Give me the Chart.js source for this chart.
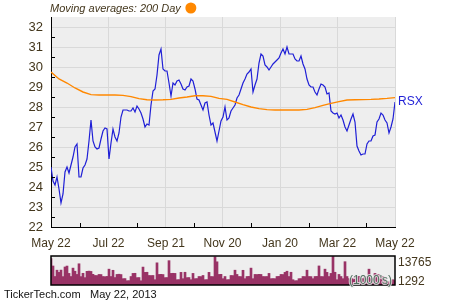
<!DOCTYPE html>
<html>
<head>
<meta charset="utf-8">
<script src="https://cdn.jsdelivr.net/npm/chart.js@4"></script>
<style>
    html, body { margin: 0; padding: 0; background: #fff; }
    #wrap { position: relative; width: 450px; height: 300px; }
    #priceChart { position: absolute; left: 0; top: 0; }
    #volumeChart { position: absolute; left: 0; top: 250px; }
</style>
</head>
<body>
<div id="wrap">
    <canvas id="priceChart" width="450" height="250"></canvas>
    <canvas id="volumeChart" width="450" height="50"></canvas>
</div>
<script>
// x axis is days since May 22, 2012
let tickDays = [0, 61, 122, 182, 243, 304, 365];
let tickLabels = ["May 22", "Jul 22", "Sep 21", "Nov 20", "Jan 20", "Mar 22", "May 22"];

let symbol = "RSX";
let maLabel = "Moving averages: 200 Day";

// RSX closing prices, evenly spaced over the year
let closes = [
    25.0, 24.3, 24.1, 24.5, 23.9, 23.2, 23.65, 24.75, 25.0, 24.7, 25.1, 25.5, 26.0, 26.15, 24.5, 24.5, 24.95, 25.1, 25.4, 26.3,
    27.35, 26.3, 26.0, 25.9, 25.95, 26.4, 26.8, 26.95, 26.9, 25.4, 26.2, 26.9, 26.5, 26.3, 26.7, 27.5, 27.85, 27.85, 27.85, 27.8,
    27.8, 27.95, 27.75, 28.05, 27.9, 27.7, 27.4, 27.0, 27.15, 27.1, 28.1, 28.8, 28.9, 29.6, 30.6, 30.9, 29.9, 29.8, 29.8, 29.2,
    28.55, 29.2, 29.1, 29.3, 29.35, 29.15, 28.9, 28.85, 29.0, 29.05, 29.4, 29.3, 28.9, 28.4, 28.35, 28.1, 27.85, 28.2, 28.25, 27.6,
    27.1, 27.2, 26.75, 26.3, 26.8, 27.3, 27.5, 28.0, 27.35, 27.45, 27.8, 27.95, 28.1, 28.45, 28.6, 28.9, 29.2, 29.4, 29.65, 29.75,
    29.9, 28.75, 29.1, 29.4, 30.2, 30.65, 30.55, 30.1, 30.0, 29.85, 30.0, 30.15, 30.25, 30.35, 30.45, 30.7, 30.9, 30.65, 31.0, 30.65,
    30.65, 30.65, 30.4, 30.3, 30.3, 30.55, 30.15, 29.9, 29.4, 29.1, 29.0, 29.0, 28.75, 28.6, 28.9, 29.15, 29.1, 29.0, 28.65, 28.7,
    27.8, 27.7, 27.65, 27.7, 27.45, 27.6, 27.35, 27.0, 26.8, 27.1, 27.4, 27.65, 27.25, 26.05, 25.8, 25.6, 25.65, 25.65, 26.15, 26.3,
    26.3, 26.55, 26.6, 27.25, 27.4, 27.7, 27.6, 27.35, 27.2, 26.7, 27.0, 27.4, 28.25
];

// 200 day moving average, evenly spaced over the year
let movingAvg = [
    29.75, 29.4, 29.2, 28.95, 28.75, 28.62, 28.6, 28.6, 28.6, 28.58, 28.52, 28.42, 28.36, 28.35, 28.36, 28.38,
    28.45, 28.5, 28.56, 28.56, 28.53, 28.43, 28.38, 28.25, 28.12, 28.0, 27.92, 27.87, 27.85, 27.85, 27.85, 27.85,
    27.88, 27.97, 28.08, 28.18, 28.27, 28.35, 28.36, 28.37, 28.38, 28.4, 28.43, 28.47
];

// daily volume in thousands
let volumes = [
    12750, 9180, 4100, 7150, 6100, 7200, 4050, 8700, 9150, 5600, 4100, 8150, 6650, 5100, 10250, 4050, 5650, 3550, 6600, 6700,
    6550, 5150, 4600, 4550, 5100, 5050, 4100, 4000, 4150, 7650, 4100, 7100, 3600, 5100, 5200, 5050, 3050, 3100, 2050, 2100,
    4100, 5600, 5650, 3550, 3600, 2050, 8650, 6100, 6150, 4600, 4550, 4600, 2550, 10700, 5100, 5150, 5050, 3550, 3600, 11750,
    5600, 5650, 5600, 2550, 2600, 6100, 3050, 6150, 3550, 3600, 2550, 5600, 3050, 3100, 4100, 4050, 4600, 2550, 2600, 6100,
    4100, 4050, 13600, 11200, 5100, 5150, 3050, 4100, 2550, 2600, 4600, 4550, 7150, 5100, 4100, 4050, 7100, 3050, 4100, 4150,
    8150, 3050, 5100, 5050, 5150, 5100, 4100, 4050, 4100, 5600, 3050, 3100, 3050, 4100, 4150, 5100, 5050, 6100, 6650, 4100,
    6150, 2550, 2050, 2100, 3050, 3100, 4100, 4050, 7150, 4100, 4050, 3050, 4100, 4150, 9200, 4100, 4050, 7650, 6100, 4100,
    5600, 13765, 6150, 2550, 5100, 4100, 3050, 11250, 4100, 3050, 3100, 3050, 4100, 4050, 4150, 3050, 3100, 4100, 4050, 7650,
    3050, 3100, 5600, 5100, 5050, 4100, 4050, 3050, 1292, 1550, 2050, 2550, 2100
];

let textColor = "#43361c";
let priceColor = "#1f1fd6";
let maColor = "#ff8800";
let volColor = "#993366";

Chart.defaults.font.family = "'Liberation Sans', Arial, sans-serif";
Chart.defaults.color = textColor;

function spread(values) {
    let last = tickDays[tickDays.length - 1];
    return values.map((v, i) => ({ x: i * last / (values.length - 1), y: v }));
}

let plotBackground = {
    id: "plotBackground",
    beforeDraw(chart) {
        let ctx = chart.ctx;
        let a = chart.chartArea;
        ctx.save();
        ctx.fillStyle = "#eeeeee";
        ctx.fillRect(a.left, a.top, a.right - a.left, a.bottom - a.top);
        ctx.restore();
    }
};

let priceExtras = {
    id: "priceExtras",
    afterDraw(chart) {
        let ctx = chart.ctx;
        let a = chart.chartArea;
        let xs = chart.scales.x;
        let ys = chart.scales.y;
        ctx.save();

        // minor ticks, pointing into the plot
        ctx.strokeStyle = "#000";
        ctx.lineWidth = 1;
        ctx.beginPath();
        for (let v = 22.5; v < 32.5; v += 1) {
            let py = Math.round(ys.getPixelForValue(v)) + 0.5;
            ctx.moveTo(a.left, py);
            ctx.lineTo(a.left + 4, py);
        }
        for (let i = 0; i < tickDays.length - 1; i++) {
            let px = Math.round(xs.getPixelForValue((tickDays[i] + tickDays[i + 1]) / 2)) + 0.5;
            ctx.moveTo(px, a.bottom);
            ctx.lineTo(px, a.bottom - 4);
        }
        ctx.stroke();

        // title with orange dot
        ctx.font = "italic 11px 'Liberation Sans', Arial, sans-serif";
        ctx.fillStyle = textColor;
        ctx.textBaseline = "middle";
        ctx.textAlign = "left";
        ctx.fillText(maLabel, 50, 9);
        let w = ctx.measureText(maLabel).width;
        ctx.fillStyle = maColor;
        ctx.beginPath();
        ctx.arc(50 + w + 10, 8, 5.5, 0, Math.PI * 2);
        ctx.fill();

        // symbol next to last close
        ctx.font = "12px 'Liberation Sans', Arial, sans-serif";
        ctx.fillStyle = priceColor;
        ctx.fillText(symbol, a.right + 3, ys.getPixelForValue(closes[closes.length - 1]));
        ctx.restore();
    }
};

new Chart(document.getElementById("priceChart"), {
    type: "line",
    data: {
        datasets: [
            {
                label: "200 Day",
                data: spread(movingAvg),
                borderColor: maColor,
                borderWidth: 1.4,
                pointRadius: 0,
                tension: 0
            },
            {
                label: symbol,
                data: spread(closes),
                borderColor: priceColor,
                borderWidth: 1.2,
                pointRadius: 0,
                tension: 0
            }
        ]
    },
    options: {
        responsive: false,
        animation: false,
        layout: { padding: { top: 17, right: 55, bottom: 0, left: 0 } },
        plugins: { legend: { display: false }, tooltip: { enabled: false } },
        scales: {
            x: {
                type: "linear",
                min: tickDays[0],
                max: tickDays[tickDays.length - 1],
                afterBuildTicks: (scale) => { scale.ticks = tickDays.map(v => ({ value: v })); },
                afterFit: (scale) => { scale.height = 23; },
                ticks: {
                    autoSkip: false,
                    maxRotation: 0,
                    padding: 9,
                    font: { size: 12 },
                    color: textColor,
                    callback: (v) => tickLabels[tickDays.indexOf(v)]
                },
                grid: { color: "#d9d9d9", drawTicks: false },
                border: { color: "#000", width: 1 }
            },
            y: {
                min: 22,
                max: 32.5,
                afterBuildTicks: (scale) => {
                    let t = [];
                    for (let v = 22; v <= 32; v++) t.push({ value: v });
                    scale.ticks = t;
                },
                afterFit: (scale) => { scale.width = 51; },
                ticks: { padding: 8, font: { size: 13 }, color: textColor },
                grid: { color: "#d9d9d9", drawTicks: false },
                border: { color: "#000", width: 1 }
            }
        }
    },
    plugins: [plotBackground, priceExtras]
});

let volumeExtras = {
    id: "volumeExtras",
    afterDraw(chart) {
        let ctx = chart.ctx;
        let a = chart.chartArea;
        ctx.save();
        ctx.strokeStyle = "#000";
        ctx.lineWidth = 1.5;
        ctx.strokeRect(a.left, a.top, a.right - a.left, a.bottom - a.top);

        ctx.font = "12px 'Liberation Sans', Arial, sans-serif";
        ctx.textBaseline = "middle";
        ctx.textAlign = "left";
        ctx.fillStyle = textColor;
        ctx.fillText(String(Math.max(...volumes)), a.right + 3, 13);
        ctx.fillText(String(Math.min(...volumes)), a.right + 3, 32);

        ctx.textAlign = "right";
        ctx.lineWidth = 2;
        ctx.strokeStyle = "rgba(238,238,238,0.8)";
        ctx.strokeText("(1000's)", a.right - 3, 31);
        ctx.fillStyle = "#4f6e5e";
        ctx.fillText("(1000's)", a.right - 3, 31);

        ctx.textAlign = "left";
        ctx.font = "11px 'Liberation Sans', Arial, sans-serif";
        ctx.fillStyle = "#111";
        ctx.fillText("TickerTech.com", 4, 45);
        ctx.fillText("May 22, 2013", 90, 45);
        ctx.restore();
    }
};

new Chart(document.getElementById("volumeChart"), {
    type: "bar",
    data: {
        labels: volumes.map((_, i) => i),
        datasets: [{
            data: volumes,
            backgroundColor: volColor,
            borderWidth: 0,
            barPercentage: 1,
            categoryPercentage: 1
        }]
    },
    options: {
        responsive: false,
        animation: false,
        layout: { padding: { top: 6, right: 55, bottom: 15, left: 51 } },
        plugins: { legend: { display: false }, tooltip: { enabled: false } },
        scales: {
            x: { display: false, offset: false },
            y: { display: false, min: 0, max: 14000 }
        }
    },
    plugins: [plotBackground, volumeExtras]
});
</script>
</body>
</html>
